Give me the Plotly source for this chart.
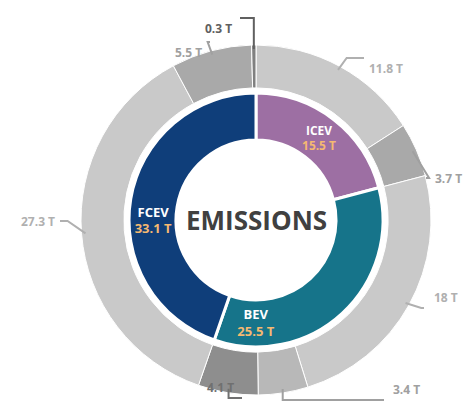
import math
import plotly.graph_objects as go

W, H = 474, 408
CX, CY = 248, 212

# inner ring: vehicle types
inner_labels = ["ICEV", "BEV", "FCEV"]
inner_values = [15.5, 25.5, 33.1]
inner_colors = ["#9d6fa3", "#16748a", "#0f3e7a"]

# outer ring: breakdown per type (clockwise from top)
outer_values = [11.8, 3.7, 18, 3.4, 4.1, 27.3, 5.5, 0.3]
outer_text = ["11.8 T", "3.7 T", "18 T", "3.4 T", "4.1 T", "27.3 T", "5.5 T", "0.3 T"]
outer_colors = ["#c9c9c9", "#a9a9a9", "#c9c9c9", "#b8b8b8", "#8e8e8e", "#c9c9c9", "#a9a9a9", "#808080"]
label_colors = ["#b0b0b0", "#a0a0a0", "#b0b0b0", "#a0a0a0", "#707070", "#b0b0b0", "#a0a0a0", "#606060"]
# label anchor pixel positions (x, y)
label_pos = [(378, 50), (440, 170), (438, 300), (398, 392), (212, 390), (30, 213), (180, 34), (210, 10)]


def dom(x0, x1, y0, y1):
    return dict(x=[x0 / W, x1 / W], y=[1 - y1 / H, 1 - y0 / H])


fig = go.Figure()
R_OUT, R_IN = 175, 127
fig.add_trace(go.Pie(
    values=outer_values, sort=False, direction="clockwise", rotation=0,
    hole=0.755, marker=dict(colors=outer_colors, line=dict(color="white", width=1)),
    textinfo="none", hoverinfo="skip", showlegend=False,
    domain=dom(CX - R_OUT, CX + R_OUT, CY - R_OUT, CY + R_OUT),
))
fig.add_trace(go.Pie(
    labels=inner_labels, values=inner_values, sort=False, direction="clockwise", rotation=0,
    hole=0.63, marker=dict(colors=inner_colors, line=dict(color="white", width=3)),
    texttemplate="<b>%{label}</b><br><b><span style='color:#f5b971'>%{value} T</span></b>",
    textposition="inside", insidetextorientation="horizontal",
    textfont=dict(color="white", size=13, family="Open Sans"),
    showlegend=False,
    domain=dom(CX - R_IN, CX + R_IN, CY - R_IN, CY + R_IN),
))

# leader lines and labels for outer ring
total = sum(outer_values)
shapes, annotations = [], []
acc = 0
for v, txt, lc, (lx, ly) in zip(outer_values, outer_text, label_colors, label_pos):
    mid = (acc + v / 2) / total * 2 * math.pi
    acc += v
    px = CX + (R_OUT - 4) * math.sin(mid)
    py = CY - (R_OUT - 4) * math.cos(mid)
    ex = CX + (R_OUT + 14) * math.sin(mid)
    if txt in ("0.3 T", "4.1 T", "3.4 T"):
        ex = px
    ey = ly
    side = 1 if lx > CX else -1
    endx = lx - side * 22
    shapes.append(dict(
        type="path", xref="paper", yref="paper",
        path=f"M {px/W},{1-py/H} L {ex/W},{1-ey/H} L {endx/W},{1-ly/H}",
        line=dict(color=lc, width=2),
    ))
    annotations.append(dict(
        x=lx / W, y=1 - ly / H, xref="paper", yref="paper", text=f"<b>{txt}</b>",
        showarrow=False, xanchor="center", font=dict(color=lc, size=12, family="Open Sans"),
    ))

annotations.append(dict(
    x=CX / W, y=1 - CY / H, xref="paper", yref="paper", text="<b>EMISSIONS</b>",
    showarrow=False, font=dict(color="#404040", size=26, family="Open Sans"),
))

fig.update_layout(
    width=W, height=H, margin=dict(l=0, r=0, t=0, b=0),
    paper_bgcolor="white", shapes=shapes, annotations=annotations,
)
fig.write_html("out.html")
